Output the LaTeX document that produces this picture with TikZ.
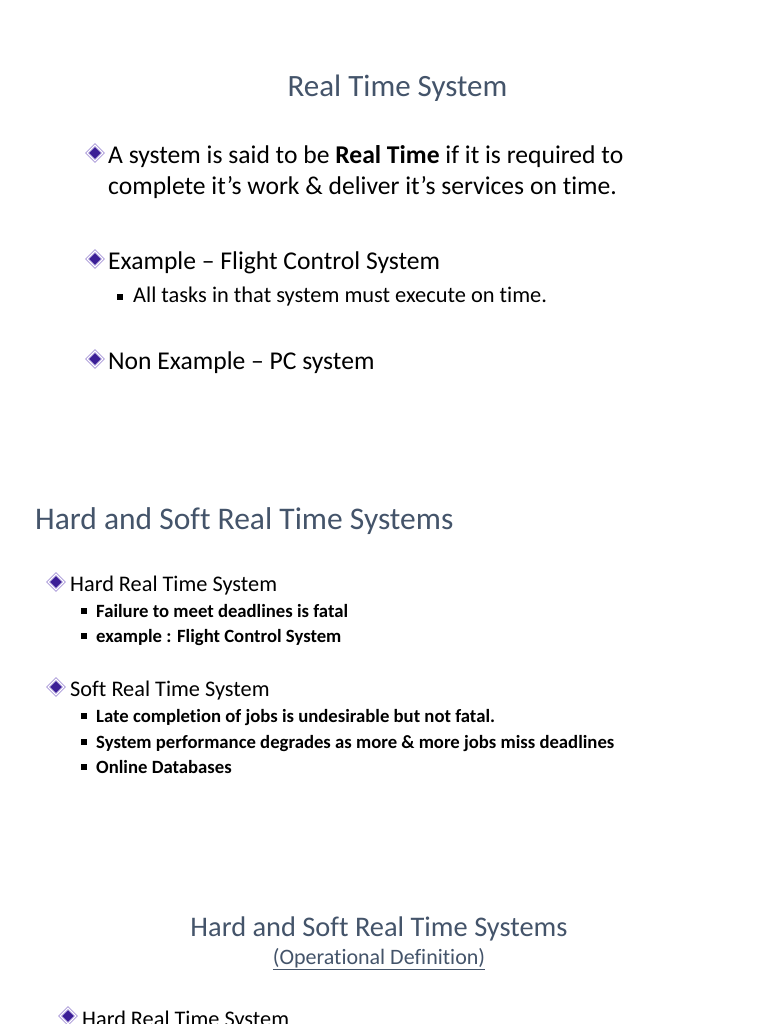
\documentclass[tikz,border=0pt]{standalone}
\usepackage{fontspec}
\setmainfont[Ligatures=NoCommon]{Carlito}
\usetikzlibrary{shapes.geometric}
\definecolor{titlec}{HTML}{44546A}
\definecolor{dia}{HTML}{3B1E96}
\definecolor{diaedge}{HTML}{A898D8}
\begin{document}
\begin{tikzpicture}[x=1pt,y=-1pt,
  ttl/.style={anchor=base, inner sep=0, font=\fontsize{31}{36}\selectfont, text=titlec},
  lvlA/.style={anchor=base west, inner sep=0, font=\fontsize{25.6}{30}\selectfont},
  lvlB/.style={anchor=base west, inner sep=0, font=\fontsize{22.4}{26}\selectfont},
  lvlC/.style={anchor=base west, inner sep=0, font=\fontsize{22.3}{26}\selectfont},
  lvlD/.style={anchor=base west, inner sep=0, font=\fontsize{18.7}{22}\selectfont\bfseries},
  dmd/.style={diamond, fill=dia, draw=diaedge, line width=0.9pt, double=white, double distance=1.1pt, minimum size=16pt, inner sep=0},
  sq/.style={fill=black, minimum size=5.5pt, inner sep=0}]
\fill[white] (0,0) rectangle (768,1024);
\clip (0,0) rectangle (768,1024);
% slide 1
\node[ttl] (t1) at (397.5,97) {Real Time System};
\node[dmd] (d1) at (95,153) {};
\node[lvlA] (a1) at (108,164) {A system is said to be \textbf{Real Time} if it is required to};
\node[lvlA] (a2) at (108,195) {complete it’s work \& deliver it’s services on time.};
\node[dmd] (d2) at (95,259) {};
\node[lvlA] (b1) at (108,269) {Example – Flight Control System};
\node[sq] (s1) at (120,297) {};
\node[lvlB] (b2) at (133,302) {All tasks in that system must execute on time.};
\node[dmd] (d3) at (95,359) {};
\node[lvlA] (c1) at (108,369) {Non Example – PC system};
% slide 2
\node[ttl, anchor=base west, font=\fontsize{31.5}{36}\selectfont] (t2) at (35,529) {Hard and Soft Real Time Systems};
\node[dmd] (d4) at (56,582) {};
\node[lvlC] (h1) at (70,591) {Hard Real Time System};
\node[sq] (s2) at (84,611) {};
\node[lvlD] (h2) at (96,617) {Failure to meet deadlines is fatal};
\node[sq] (s3) at (84,636) {};
\node[lvlD] (h3) at (96,642) {example : Flight Control System};
\node[dmd] (d5) at (56,687) {};
\node[lvlC] (f1) at (70,696) {Soft Real Time System};
\node[sq] (s4) at (84,716) {};
\node[lvlD] (f2) at (96,722) {Late completion of jobs is undesirable but not fatal.};
\node[sq] (s5) at (84,742) {};
\node[lvlD] (f3) at (96,748) {System performance degrades as more \& more jobs miss deadlines};
\node[sq] (s6) at (84,767) {};
\node[lvlD] (f4) at (96,773) {Online Databases};
% slide 3
\node[ttl, font=\fontsize{28.4}{33}\selectfont] (t3) at (379,936) {Hard and Soft Real Time Systems};
\node[ttl, font=\fontsize{22}{26}\selectfont] (t3s) at (379,964) {\underline{(Operational Definition)}};
\node[dmd] (d6) at (68,1016) {};
\node[lvlC] (k1) at (82,1026) {Hard Real Time System};
\end{tikzpicture}
\end{document}
